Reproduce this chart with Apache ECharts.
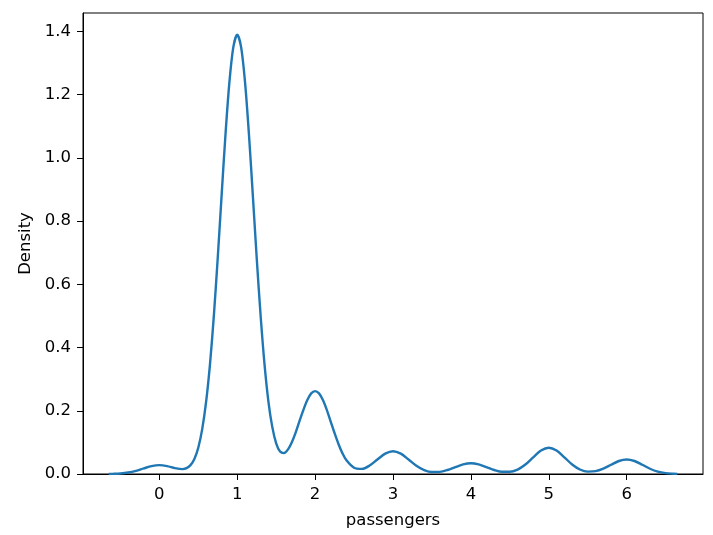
<!DOCTYPE html>
<html>
<head>
<meta charset="utf-8">
<title>passengers density</title>
<script src="https://cdn.jsdelivr.net/npm/echarts@6/dist/echarts.min.js"></script>
<style>
    html, body { margin: 0; padding: 0; background: #fff; }
    #kde { width: 713px; height: 535px; }
</style>
</head>
<body>
<div id="kde"></div>
<script>
// x positions of the density curve (passengers)
var passengers = [
    -0.65, -0.6, -0.5, -0.4, -0.3, -0.2, -0.1, 0, 0.1, 0.2, 0.3, 0.35, 0.4, 0.45,
    0.5, 0.55, 0.6, 0.65, 0.7, 0.75, 0.8, 0.85, 0.9, 0.95, 1.0, 1.05, 1.1, 1.15,
    1.2, 1.25, 1.3, 1.35, 1.4, 1.45, 1.5, 1.55, 1.6, 1.65, 1.7, 1.75, 1.8, 1.85,
    1.9, 1.95, 2.0, 2.05, 2.1, 2.15, 2.2, 2.25, 2.3, 2.35, 2.4, 2.5, 2.6, 2.7,
    2.8, 2.9, 3.0, 3.1, 3.2, 3.3, 3.4, 3.5, 3.6, 3.7, 3.8, 3.9, 4.0, 4.1, 4.2,
    4.3, 4.4, 4.5, 4.6, 4.7, 4.8, 4.9, 5.0, 5.1, 5.2, 5.3, 5.4, 5.5, 5.6, 5.7,
    5.8, 5.9, 6.0, 6.1, 6.2, 6.3, 6.4, 6.5, 6.6, 6.65
];
// density
var density = [
    0.0002, 0.0005, 0.0016, 0.0046, 0.0101, 0.0178, 0.0250, 0.0280, 0.0251, 0.0188, 0.0155, 0.0185, 0.0280, 0.0478,
    0.0831, 0.141, 0.227, 0.346, 0.501, 0.684, 0.883, 1.076, 1.240, 1.350, 1.389, 1.350, 1.240, 1.076,
    0.883, 0.684, 0.502, 0.348, 0.230, 0.149, 0.097, 0.071, 0.066, 0.077, 0.100, 0.131, 0.168, 0.203,
    0.234, 0.255, 0.262, 0.255, 0.234, 0.203, 0.166, 0.129, 0.095, 0.066, 0.044, 0.0196, 0.0161, 0.0269,
    0.046, 0.0643, 0.072, 0.0643, 0.0457, 0.0260, 0.0123, 0.0062, 0.0067, 0.0126, 0.0216, 0.0304, 0.034, 0.0304, 0.0217,
    0.0126, 0.0069, 0.0069, 0.0141, 0.0300, 0.0527, 0.0741, 0.083, 0.0741, 0.0527, 0.0301, 0.0143, 0.0076, 0.0089, 0.0169,
    0.0292, 0.0411, 0.046, 0.0411, 0.0292, 0.0166, 0.0075, 0.0027, 0.0008, 0.0004
];
var xTicks = [0, 1, 2, 3, 4, 5, 6];
var yTicks = [0, 0.2, 0.4, 0.6, 0.8, 1.0, 1.2, 1.4];

var chart = echarts.init(document.getElementById('kde'));

var points = [];
for (var i = 0; i < passengers.length; i++) {
    points.push([passengers[i], density[i]]);
}

var font = 'DejaVu Sans';
var fsize = 16.5;

option = {
    animation: false,
    grid: {
        left: 83, right: 10, top: 13, bottom: 61,
        show: true, borderColor: '#000', borderWidth: 1, backgroundColor: '#fff'
    },
    xAxis: {
        type: 'value',
        min: -0.98,
        max: 6.98,
        name: 'passengers',
        nameLocation: 'middle',
        nameGap: 38,
        nameTextStyle: { fontFamily: font, fontSize: fsize, color: '#000' },
        axisLine: { show: true, onZero: false, lineStyle: { color: '#000', width: 1 } },
        axisTick: { show: true, length: 6, lineStyle: { color: '#000' }, customValues: xTicks },
        axisLabel: { fontFamily: font, fontSize: fsize, color: '#000', margin: 12, customValues: xTicks },
        splitLine: { show: false }
    },
    yAxis: {
        type: 'value',
        min: 0,
        max: 1.458,
        name: 'Density',
        nameLocation: 'middle',
        nameGap: 48,
        nameTextStyle: { fontFamily: font, fontSize: fsize, color: '#000' },
        axisLine: { show: true, onZero: false, lineStyle: { color: '#000', width: 1 } },
        axisTick: { show: true, length: 6, lineStyle: { color: '#000' }, customValues: yTicks },
        axisLabel: {
            fontFamily: font, fontSize: fsize, color: '#000', margin: 12, customValues: yTicks,
            formatter: function (v) { return v.toFixed(1); }
        },
        splitLine: { show: false }
    },
    series: [
        {
            type: 'line',
            data: points,
            smooth: 0.3,
            showSymbol: false,
            lineStyle: { color: '#1f77b4', width: 2.4 }
        }
    ]
};

chart.setOption(option);
</script>
</body>
</html>
